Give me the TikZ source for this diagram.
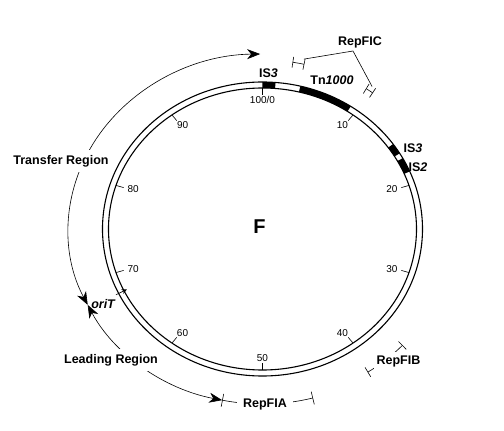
\documentclass[tikz,border=0pt]{standalone}
\usepackage{fontspec}
\setmainfont{Liberation Sans}
\usetikzlibrary{arrows.meta}
\begin{document}
\begin{tikzpicture}[x=1pt,y=1pt,>={Stealth[length=13pt,width=10pt,inset=4pt]},
    lbl/.style={font=\fontsize{12.5}{14}\selectfont\bfseries,inner sep=1pt},
    cover/.style={lbl,fill=white,inner sep=5pt},
    num/.style={font=\fontsize{10}{12}\selectfont,inner sep=0pt},
    brk/.style={{Bar[width=11pt]}-{Bar[width=11pt]}},
    arcline/.style={line width=0.6pt}]
    \def\ro{160pt and 147pt} \def\ri{154pt and 141pt}
    \def\blk(#1,#2){({90-3.6*#1}:\ro) arc[start angle={90-3.6*#1},end angle={90-3.6*#2},x radius=160pt,y radius=147pt]
        -- ({90-3.6*#2}:\ri) arc[start angle={90-3.6*#2},end angle={90-3.6*#1},x radius=154pt,y radius=141pt] -- cycle}
    \useasboundingbox (-262.5,-202) rectangle (241.5,229);
    %===========================================
    \draw[line width=1.1pt] (0,0) ellipse[x radius=160pt,y radius=147pt] (0,0) ellipse[x radius=154pt,y radius=141pt];
    \fill \blk(0,1.3) \blk(3.8,9.3) \blk(15.2,16.4) \blk(17,18.6);
    \foreach \m in {0,10,...,90}{
        \draw[line width=0.6pt] ({90-3.6*\m}:\ri) -- ({90-3.6*\m}:146pt and 134pt);
        \node[num] (n\m) at ({90-3.6*\m}:136pt and 129pt) {\ifnum\m=0 100/0\else\m\fi};
    }
    \draw[arcline,-{Stealth[length=5pt,width=5pt]}] (206:163pt and 150pt) -- (206:151pt and 138pt);
    \node[font=\fontsize{20}{24}\selectfont\bfseries] (F) at (-3,2) {F};
    \node[lbl] (is3a) at (6,156) {IS\textit{3}};
    \node[lbl] (tn) at (69.5,149) {Tn\textit{1000}};
    \node[lbl] (is3b) at (150.5,81) {IS\textit{3}};
    \node[lbl] (is2) at (155.5,62) {IS\textit{2}};
    %===========================================
    \coordinate (top) at (90.7:194pt and 175pt);
    \coordinate (oriT) at (205.7:194pt and 175pt);
    \coordinate (fiaL) at (258:194pt and 175pt);
    \coordinate (fiaR) at (285.1:194pt and 175pt);
    \draw[arcline,<->] (top) arc[start angle=90.7,end angle=205.7,x radius=194pt,y radius=175pt];
    \draw[arcline,<->] (oriT) arc[start angle=205.7,end angle=258,x radius=194pt,y radius=175pt];
    \draw[arcline,{Bar[width=13pt]}-{Bar[width=13pt]}] (fiaL) arc[start angle=258,end angle=285.1,x radius=194pt,y radius=175pt];
    \node[cover] (transfer) at (-201.5,68) {Transfer Region};
    \node[cover] (leading) at (-151.5,-131) {Leading Region};
    \node[cover,inner xsep=6.5pt,inner ysep=3pt] (fia) at (2.5,-175) {RepFIA};
    \node[lbl] (oritlbl) at (-159,-75) {\textit{oriT}};
    %===========================================
    \draw[arcline,brk] (-42.5:190pt and 172pt) arc[start angle=-42.5,end angle=-56.4,x radius=190pt,y radius=172pt];
    \node[cover,inner sep=3pt] (fib) at (136,-132) {RepFIB};
    %===========================================
    \coordinate (ficL) at (77.5:191pt and 174pt);
    \coordinate (ficR) at (55:191pt and 174pt);
    \coordinate (ficA) at (90.5,178);
    \draw[arcline,brk] (80.7:186pt and 169pt) arc[start angle=80.7,end angle=77,x radius=186pt,y radius=169pt];
    \draw[arcline,brk] (56.2:186pt and 169pt) arc[start angle=56.2,end angle=53.6,x radius=186pt,y radius=169pt];
    \draw[arcline] (ficL) -- (ficA) -- (ficR);
    \node[lbl] (fic) at (97.5,187) {RepFIC};
\end{tikzpicture}
\end{document}
